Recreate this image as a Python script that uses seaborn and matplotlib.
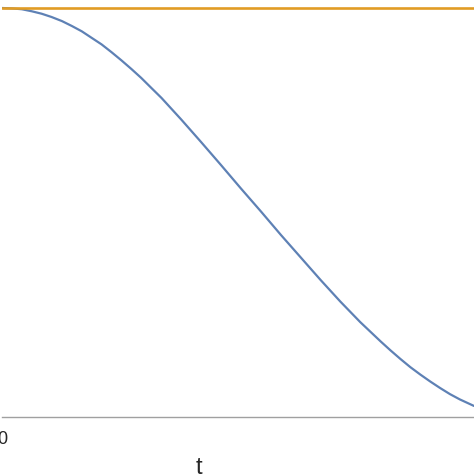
import matplotlib
matplotlib.use("Agg")
import matplotlib.pyplot as plt
import seaborn as sns
import pandas as pd

# curve
t_vals = [0.0, 0.021, 0.042, 0.063, 0.084, 0.105, 0.127, 0.148, 0.169, 0.190,
          0.211, 0.232, 0.253, 0.274, 0.295, 0.316, 0.338, 0.380, 0.422, 0.464,
          0.506, 0.549, 0.591, 0.633, 0.675, 0.717, 0.759, 0.802, 0.823, 0.844,
          0.865, 0.886, 0.907, 0.928, 0.949, 0.970, 1.0]
blue_vals = [1.000, 0.999, 0.997, 0.992, 0.986, 0.978, 0.968, 0.956, 0.943, 0.927,
             0.911, 0.892, 0.872, 0.851, 0.829, 0.805, 0.780, 0.727, 0.672, 0.616,
             0.559, 0.502, 0.445, 0.390, 0.335, 0.282, 0.232, 0.185, 0.163, 0.142,
             0.122, 0.104, 0.087, 0.071, 0.056, 0.043, 0.027]
flat_t = [0.0, 1.0]
flat_vals = [1.0, 1.0]
x_ticks = [0]
x_tick_labels = ["0"]

blue_df = pd.DataFrame({"t": t_vals, "y": blue_vals})
flat_df = pd.DataFrame({"t": flat_t, "y": flat_vals})

sns.set_style("white")
plt.rcParams["font.family"] = ["Liberation Sans", "DejaVu Sans"]

fig = plt.figure(figsize=(4.74, 4.74), dpi=100)
ax = fig.add_axes([2 / 474, 57 / 474, 472 / 474, 417 / 474])

sns.lineplot(data=blue_df, x="t", y="y", ax=ax, color="#5E81B5", linewidth=1.6)
sns.lineplot(data=flat_df, x="t", y="y", ax=ax, color="#E19C24", linewidth=1.9)

ax.set_xlim(0, 1)
ax.set_ylim(0, 417 / 409)
for side in ["left", "top", "right"]:
    ax.spines[side].set_visible(False)
ax.spines["bottom"].set_color("#a0a0a0")
ax.spines["bottom"].set_linewidth(1.0)

ax.set_yticks([])
ax.set_xticks(x_ticks)
ax.set_xticklabels(x_tick_labels, fontsize=13)
ax.tick_params(axis="x", length=0, pad=10)
ax.set_ylabel("")
ax.set_xlabel("t", fontsize=17)
ax.xaxis.set_label_coords(197 / 472, -40 / 417)

fig.savefig("out.png", dpi=100)
